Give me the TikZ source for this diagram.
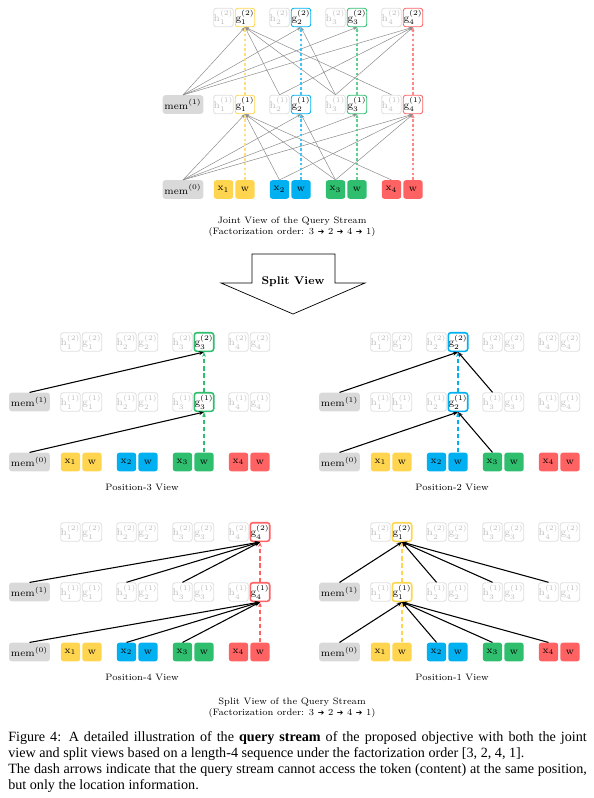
\documentclass[tikz,border=0pt]{standalone}
\usepackage{fontspec}
\usepackage{tikz}
\usetikzlibrary{arrows.meta,positioning}
\newfontfamily\capfont{Liberation Serif}
\newfontfamily\symfont{DejaVu Sans}
\definecolor{qsYellow}{RGB}{255,213, 79}
\definecolor{qsBlue}  {RGB}{  0,176,240}
\definecolor{qsGreen} {RGB}{ 46,190,110}
\definecolor{qsRed}   {RGB}{255, 98, 98}
\definecolor{qsGrey}  {RGB}{217,217,217}
\definecolor{qsEdge}  {RGB}{140,140,140}
\definecolor{qsFade}  {RGB}{222,222,222}
\definecolor{qsFadeT} {RGB}{190,190,190}
\newcommand{\ordarrow}{\ {\symfont\fontsize{5.5}{6}\selectfont ➔}\ }

\begin{document}
\begin{tikzpicture}[x=0.7pt,y=-0.7pt,
  every node/.style={font=\fontsize{7}{8}\selectfont,inner sep=0pt},
  tok/.style={rounded corners=1.8pt,minimum width=13.6pt,minimum height=13pt},
  memb/.style={tok,fill=qsGrey,minimum width=28.5pt},
  fade/.style={tok,draw=qsFade,line width=0.6pt,text=qsFadeT},
  jarr/.style={draw=qsEdge,line width=0.35pt,-{Stealth[length=3pt,width=2.2pt]}},
  sarr/.style={line width=0.75pt,-{Stealth[length=3.6pt,width=2.8pt]}},
  jdash/.style={line width=0.75pt,dash pattern=on 1.8pt off 1.6pt,
                -{Stealth[length=2.8pt,width=2.2pt]}},
  sdash/.style={line width=1pt,dash pattern=on 3pt off 2pt,
                -{Stealth[length=3.4pt,width=2.6pt]}},
  vcap/.style={font=\fontsize{6.5}{8.2}\selectfont,align=center}
]
\useasboundingbox (0,0) rectangle (593,798);

% joint view
\node[memb] (J-m0) at (183,189.5) {mem$^{(0)}$};
\node[memb] (J-m1) at (183,104.5) {mem$^{(1)}$};
\foreach \i/\k in {1/qsYellow,2/qsBlue,3/qsGreen,4/qsRed}{
  \pgfmathsetmacro{\hx}{223.5+56*(\i-1)}
  \node[tok,fill=\k] (J-x\i) at (\hx,189.5) {x$_\i$};
  \node[tok,fill=\k] (J-w\i) at (\hx+21.5,189.5) {w};
  \node[fade] (J-h\i-1) at (\hx,104.5) {h$_\i^{(1)}$};
  \node[tok,draw=\k,line width=0.6pt] (J-g\i-1) at (\hx+21.5,104.5) {g$_\i^{(1)}$};
  \node[fade] (J-h\i-2) at (\hx,17.5) {h$_\i^{(2)}$};
  \node[tok,draw=\k,line width=0.6pt] (J-g\i-2) at (\hx+21.5,17.5) {g$_\i^{(2)}$};
}
\foreach \s/\t in {m0/1,m0/2,m0/3,m0/4,x2/1,x2/4,x3/1,x3/2,x3/4,x4/1}
  \draw[jarr] (J-\s.north) -- (J-g\t-1.south);
\foreach \s/\t in {m1/1,m1/2,m1/3,m1/4,h2-1/1,h2-1/4,h3-1/1,h3-1/2,h3-1/4,h4-1/1}
  \draw[jarr] (J-\s.north) -- (J-g\t-2.south);
\foreach \i/\k in {1/qsYellow,2/qsBlue,3/qsGreen,4/qsRed}{
  \draw[jdash,draw=\k!75,fill=\k!75] (J-w\i.north) -- (J-g\i-1.south);
  \draw[jdash,draw=\k!75,fill=\k!75] (J-g\i-1.north) -- (J-g\i-2.south);
}
\node[vcap] (J-cap) at (292,227) {Joint View of the Query Stream\\
  (Factorization order: 3\ordarrow 2\ordarrow 4\ordarrow 1)};

% split arrow
\draw[line width=0.5pt] (252,254) -- (335,254) -- (335,283) -- (365,283)
  -- (293,314) -- (221,283) -- (252,283) -- cycle;
\node[font=\bfseries\fontsize{7.8}{9}\selectfont] (split) at (293,282) {Split View};

% split views
\foreach \v/\dx/\dy/\p/\ga in {P3/0/0/3/g,P2/310/0/2/h,P4/0/190/4/g,P1/310/190/1/g}{
  \node[memb] (\v-m0) at (29.5+\dx,462+\dy) {mem$^{(0)}$};
  \node[memb] (\v-m1) at (29.5+\dx,402+\dy) {mem$^{(1)}$};
  \foreach \i/\k in {1/qsYellow,2/qsBlue,3/qsGreen,4/qsRed}{
    \pgfmathsetmacro{\hx}{70.5+56*(\i-1)+\dx}
    \ifnum\i=1 \def\gl{\ga}\else\def\gl{g}\fi
    \node[tok,fill=\k] (\v-x\i) at (\hx,462+\dy) {x$_\i$};
    \node[tok,fill=\k] (\v-w\i) at (\hx+21.5,462+\dy) {w};
    \node[fade] (\v-h\i-1) at (\hx,402+\dy) {h$_\i^{(1)}$};
    \node[fade] (\v-h\i-2) at (\hx,342+\dy) {h$_\i^{(2)}$};
    \ifnum\i=\p
      \node[tok,draw=\k,line width=1.1pt] (\v-g\i-1) at (\hx+21.5,402+\dy) {g$_\i^{(1)}$};
      \node[tok,draw=\k,line width=1.1pt] (\v-g\i-2) at (\hx+21.5,342+\dy) {g$_\i^{(2)}$};
    \else
      \node[fade] (\v-g\i-1) at (\hx+21.5,402+\dy) {\gl$_\i^{(1)}$};
      \node[fade] (\v-g\i-2) at (\hx+21.5,342+\dy) {g$_\i^{(2)}$};
    \fi
  }
}
\foreach \v/\i/\k in {P3/3/qsGreen,P2/2/qsBlue,P4/4/qsRed,P1/1/qsYellow}{
  \draw[sdash,draw=\k,fill=\k] (\v-w\i.north) -- (\v-g\i-1.south);
  \draw[sdash,draw=\k,fill=\k] (\v-g\i-1.north) -- (\v-g\i-2.south);
}
\foreach \v/\t/\s in {P3/3/m0,P2/2/m0,P2/2/x3,P4/4/m0,P4/4/x2,P4/4/x3,
                      P1/1/m0,P1/1/x2,P1/1/x3,P1/1/x4}
  \draw[sarr] (\v-\s.north) -- (\v-g\t-1.south);
\foreach \v/\t/\s in {P3/3/m1,P2/2/m1,P2/2/h3-1,P4/4/m1,P4/4/h2-1,P4/4/h3-1,
                      P1/1/m1,P1/1/h2-1,P1/1/h3-1,P1/1/h4-1}
  \draw[sarr] (\v-\s.north) -- (\v-g\t-2.south);
\node[vcap] (P3-cap) at (142,487) {Position-3 View};
\node[vcap] (P2-cap) at (452,487) {Position-2 View};
\node[vcap] (P4-cap) at (142,677) {Position-4 View};
\node[vcap] (P1-cap) at (452,677) {Position-1 View};
\node[vcap] (S-cap) at (292,708) {Split View of the Query Stream\\
  (Factorization order: 3\ordarrow 2\ordarrow 4\ordarrow 1)};

% caption
\node[anchor=north west,text width=405pt,align=justify,
      font=\capfont\fontsize{9.9}{11.3}\selectfont] (fig-cap) at (8,731)
  {Figure 4: A detailed illustration of the \textbf{query stream} of the proposed
   objective with both the joint\linebreak view and split views based on a length-4 sequence
   under the factorization order [3, 2, 4, 1].\\
   The dash arrows indicate that the query stream cannot access the token (content)
   at the same position,\linebreak but only the location information.};
\end{tikzpicture}
\end{document}
